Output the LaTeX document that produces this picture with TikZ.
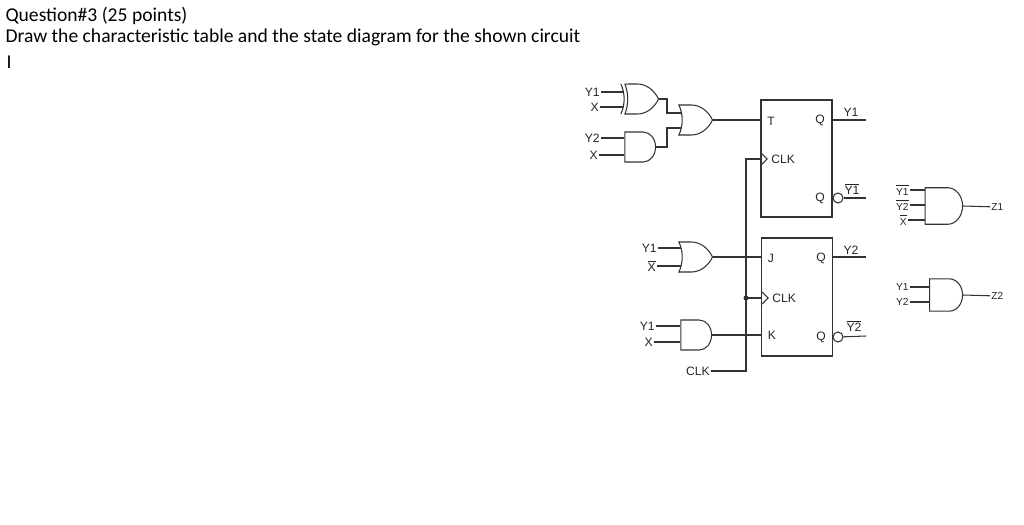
\documentclass[tikz,border=0pt]{standalone}
\usepackage{fontspec}
\setmainfont{Carlito}
\newfontfamily\wirefont{Liberation Sans}
\usetikzlibrary{shapes.gates.logic.US}
\begin{document}
\begin{tikzpicture}[x=0.02cm, y=-0.02cm, line width=0.6pt, color=black!80,
  gatebase/.style={draw, inner sep=0pt, anchor=output, logic gate input sep=0.2cm, xscale=0.82, transform shape},
  andgate/.style={and gate US, gatebase, logic gate inputs=nn},
  orgate/.style={or gate US, gatebase, logic gate inputs=nn},
  xorgate/.style={xor gate US, gatebase, logic gate inputs=nn},
  sig/.style={font=\wirefont\fontsize{6.9}{8}\selectfont, inner sep=0.5pt, text=black!85},
  small/.style={font=\wirefont\fontsize{5.8}{7}\selectfont, inner sep=0.5pt, text=black!85},
  ffbox/.style={draw, rectangle, inner sep=0pt, minimum width=1.42cm},
  bubble/.style={draw, circle, inner sep=0pt, minimum size=0.2cm},
  heading/.style={font=\fontsize{11.15}{13}\selectfont, anchor=west, inner sep=0pt, text=black}]
\path[use as bounding box, fill=white] (0,0) rectangle (1024,524);

\node[heading] (Title) at (5,15.5) {Question\#3 (25 points)};
\node[heading] (Task) at (5,37.5) {Draw the characteristic table and the state diagram for the shown circuit};
\node[heading] (Cursor) at (6,62) {I};

\node[ffbox, minimum height=2.34cm] (FlopT) at (796.5,158.5) {};
\node[ffbox, minimum height=2.36cm] (FlopJK) at (797,297) {};

\node[xorgate] (XorT) at (659,99) {};
\node[andgate] (AndT) at (656,147) {};
\node[orgate] (OrT) at (713,120) {};
\node[orgate] (OrJ) at (713,257) {};
\node[andgate] (AndK) at (712,335) {};
\node[andgate, logic gate inputs=nnn, logic gate input sep=0.175cm] (AndA) at (963,206) {};
\node[andgate, logic gate input sep=0.215cm] (AndB) at (963,295) {};

\node[sig, anchor=east] (XorY) at (601,92) {Y1};
\node[sig, anchor=east] (XorX) at (600,107) {X};
\node[sig, anchor=east] (AndY) at (601,138) {Y2};
\node[sig, anchor=east] (AndX) at (599,155) {X};
\node[sig, anchor=east] (OrY) at (658,248) {Y1};
\node[sig, anchor=east] (OrX) at (657,266) {$\overline{\mbox{X}}$};
\node[sig, anchor=east] (KY) at (656,326) {Y1};
\node[sig, anchor=east] (KX) at (654,342) {X};
\node[sig, anchor=east] (Clock) at (711,371) {CLK};

\node[small, anchor=east] (AY) at (910,190) {$\overline{\mbox{Y1}}$};
\node[small, anchor=east] (AW) at (910,205) {$\overline{\mbox{Y2}}$};
\node[small, anchor=east] (AX) at (908,220) {$\overline{\mbox{X}}$};
\node[small, anchor=east] (BY) at (910,287) {Y1};
\node[small, anchor=east] (BW) at (910,302) {Y2};
\node[small, anchor=west] (OutA) at (990,207) {Z1};
\node[small, anchor=west] (OutB) at (990,296) {Z2};

\node[sig] (T) at (771,121) {T};
\node[sig] (QT) at (820,120) {Q};
\node[sig] (QTn) at (820,198) {Q};
\node[sig] (J) at (771,258) {J};
\node[sig] (QJ) at (821,258) {Q};
\node[sig] (K) at (772,335) {K};
\node[sig] (QJn) at (821,337) {Q};
\node[sig, anchor=west] (ClkT) at (770,159) {CLK};
\node[sig, anchor=west] (ClkJ) at (771,298) {CLK};

\node[bubble] (NotT) at (838,198) {};
\node[bubble] (NotJ) at (838,337) {};

\coordinate (PinT) at (866,120);
\coordinate (PinTn) at (866,198);
\coordinate (PinJ) at (866,257);
\coordinate (PinJn) at (866,336);
\coordinate (EdgeT) at (761,159);
\coordinate (EdgeJ) at (762,298);
\coordinate (Turn) at (746,371);
\coordinate (Top) at (746,159);
\coordinate (Tap) at (746,298);

\node[sig] (LabT) at (851,112) {Y1};
\node[sig] (LabTn) at (852,189) {$\overline{\mbox{Y1}}$};
\node[sig] (LabJ) at (851,250) {Y2};
\node[sig] (LabJn) at (854,326) {$\overline{\mbox{Y2}}$};

\draw (XorY) -- (XorY -| XorT.input 1);
\draw (XorX) -- (XorX -| XorT.input 2);
\draw (AndY) -- (AndY -| AndT.input 1);
\draw (AndX) -- (AndX -| AndT.input 2);
\draw (XorT.output) -| (667,113) -- (667,113 -| OrT.input 1);
\draw (AndT.output) -| (667,128) -- (667,128 -| OrT.input 2);
\draw (OrT.output) -- (FlopT.west |- OrT.output);
\draw (OrY) -- (OrY -| OrJ.input 1);
\draw (OrX) -- (OrX -| OrJ.input 2);
\draw (OrJ.output) -- (FlopJK.west |- OrJ.output);
\draw (KY) -- (KY -| AndK.input 1);
\draw (KX) -- (KX -| AndK.input 2);
\draw (AndK.output) -- (FlopJK.west |- AndK.output);
\draw (AY) -- (AY -| AndA.input 1);
\draw (AW) -- (AW -| AndA.input 1);
\draw (AX) -- (AX -| AndA.input 1);
\draw (BY) -- (BY -| AndB.input 1);
\draw (BW) -- (BW -| AndB.input 1);
\draw (AndA.output) -- (OutA);
\draw (AndB.output) -- (OutB);

\draw (Clock) -- (Turn) -- (Top) -- (EdgeT);
\draw (Tap) -- (EdgeJ);
\fill (Tap) circle (2.5);
\draw (EdgeT) ++(0,-6) -- ++(6,6) -- ++(-6,6);
\draw (EdgeJ) ++(0,-6) -- ++(6,6) -- ++(-6,6);

\draw (FlopT.east |- PinT) -- (PinT);
\draw (NotT) -- (PinTn);
\draw (FlopJK.east |- PinJ) -- (PinJ);
\draw (NotJ) -- (PinJn);
\end{tikzpicture}
\end{document}
